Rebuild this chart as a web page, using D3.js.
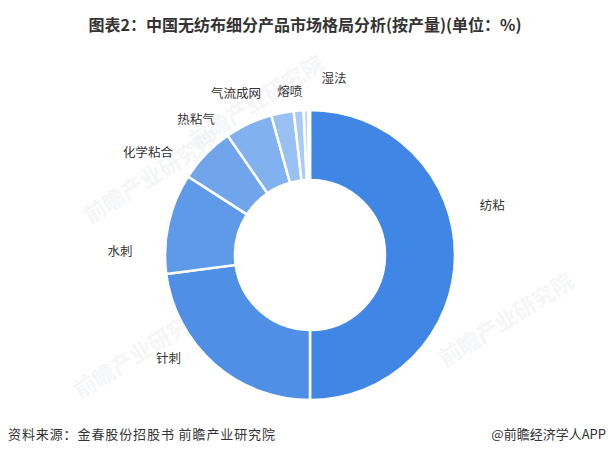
<!DOCTYPE html>
<html>
<head>
<meta charset="utf-8">
<script src="https://cdn.jsdelivr.net/npm/d3@7"></script>
<style>
  html, body { margin: 0; padding: 0; background: #fff; }
  svg { display: block; }
  text { font-family: "Noto Sans CJK SC", "Noto Sans", sans-serif; }
</style>
</head>
<body>
<svg id="chart" width="609" height="452"></svg>
<script>
// ---- data ----
const categories = ["纺粘", "针刺", "水刺", "化学粘合", "热粘气", "气流成网", "熔喷", "湿法", "其他"];
const values = [50.0, 22.9, 11.2, 6.3, 5.3, 2.5, 1.1, 0.5, 0.2];
const showLabel = [true, true, true, true, true, true, true, true, false];
const titleText = "图表2：中国无纺布细分产品市场格局分析(按产量)(单位：%)";
const sourceText = "资料来源：金春股份招股书 前瞻产业研究院";
const brandText = "@前瞻经济学人APP";

// ---- layout / style ----
const colors = ["#4086e4", "#4f90e6", "#5f9ae9", "#70a5ec", "#82b1ef", "#98c0f3", "#abcbf5", "#bcd6f7", "#cfe1f9"];
const labelPolar = [ // [angle in degrees clockwise from top, radius]
  [74.6, 189], [234, 175], [271.5, 190], [302.5, 192], [320.2, 178], [335.6, 179], [353, 166], [7.7, 179], null
];
const cx = 310, cy = 255, rOuter = 145, rInner = 75;

const svg = d3.select("#chart");

// watermarks
const wm = [[150, 175], [255, 100], [505, 318], [140, 350]];
svg.append("g").selectAll("text").data(wm).join("text")
  .attr("transform", d => `translate(${d[0]},${d[1]}) rotate(-32)`)
  .attr("text-anchor", "middle")
  .attr("dominant-baseline", "central")
  .attr("font-size", 22)
  .attr("font-weight", "bold")
  .attr("fill", "#eef0f2")
  .attr("fill-opacity", 0.6)
  .text("前瞻产业研究院");

// title
svg.append("text")
  .attr("x", 305).attr("y", 24)
  .attr("text-anchor", "middle")
  .attr("dominant-baseline", "central")
  .attr("font-size", 16)
  .attr("font-weight", "bold")
  .attr("fill", "#333")
  .text(titleText);

// pie
const pie = d3.pie().sort(null).value(d => d.v);
const data = categories.map((c, i) => ({ c, v: values[i], i }));
const arcs = pie(data);
const arc = d3.arc().innerRadius(rInner).outerRadius(rOuter);

const g = svg.append("g").attr("transform", `translate(${cx},${cy})`);
g.selectAll("path").data(arcs).join("path")
  .attr("d", arc)
  .attr("fill", d => colors[d.data.i])
  .attr("stroke", "#fff")
  .attr("stroke-width", 2.5)
  .attr("stroke-linejoin", "miter");

// labels
g.selectAll("text.lbl").data(arcs.filter(d => showLabel[d.data.i])).join("text")
  .attr("class", "lbl")
  .attr("x", d => labelPolar[d.data.i][1] * Math.sin(labelPolar[d.data.i][0] * Math.PI / 180))
  .attr("y", d => -labelPolar[d.data.i][1] * Math.cos(labelPolar[d.data.i][0] * Math.PI / 180))
  .attr("text-anchor", "middle")
  .attr("dominant-baseline", "central")
  .attr("font-size", 12.5)
  .attr("fill", "#333")
  .text(d => d.data.c);

// footer
svg.append("text")
  .attr("x", 8).attr("y", 433)
  .attr("dominant-baseline", "central")
  .attr("font-size", 13)
  .attr("letter-spacing", 0.9)
  .attr("fill", "#333")
  .text(sourceText);
svg.append("text")
  .attr("x", 606).attr("y", 433)
  .attr("text-anchor", "end")
  .attr("dominant-baseline", "central")
  .attr("font-size", 13)
  .attr("fill", "#333")
  .text(brandText);
</script>
</body>
</html>
